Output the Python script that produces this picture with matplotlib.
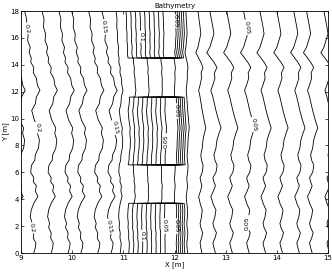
import numpy as np
import matplotlib
matplotlib.use("Agg")
import matplotlib.pyplot as plt

# ---- data ----
# cross-shore columns [m] and depth there [m]
x_cols = [8.5, 9.0, 9.23, 9.57, 9.9, 10.15, 10.48, 10.74, 10.93, 11.05, 11.1,
          11.85, 12.0, 12.2, 12.24, 12.5, 12.75, 13.08, 13.41, 13.73, 14.06,
          14.39, 14.64, 14.98, 15.5]
depth_open = [0.225, 0.208, 0.20, 0.19, 0.18, 0.17, 0.16, 0.15, 0.14, 0.136, 0.134,
              0.106, 0.10, 0.093, 0.09, 0.08, 0.07, 0.06, 0.05, 0.04, 0.03,
              0.02, 0.01, 0.0, -0.015]
depth_struct = [0.225, 0.208, 0.20, 0.19, 0.18, 0.17, 0.16, 0.15, 0.14, 0.136, 0.13,
                0.045, 0.042, 0.093, 0.09, 0.08, 0.07, 0.06, 0.05, 0.04, 0.03,
                0.02, 0.01, 0.0, -0.015]
# weights of the left / right wiggle per column
w_left = [1, 1, 1, 1, 1, 1, 1, 1, 0.45, 0.3, 0.3, 0.15, 0.05, 0, 0, 0, 0, 0, 0, 0, 0, 0, 0, 0, 0]
w_right = [0, 0, 0, 0, 0, 0, 0, 0, 0, 0, 0, 0.15, 0.2, 0.25, 0.3, 0.7, 1, 1, 1, 1, 1, 1, 1, 1, 1]

# alongshore stations [m], wiggle (x shift) of the contours, left and right part
y_rows = [0, 0.4, 0.75, 1.1, 1.5, 1.9, 2.2, 2.7, 3.2, 3.69,
          3.71, 4.2, 4.6, 5.0, 5.3, 5.6, 6.0, 6.4, 6.54, 6.56,
          6.9, 7.3, 7.8, 8.4, 8.9, 9.3, 9.9, 10.6, 11.1, 11.59,
          11.61, 12.1, 12.5, 13.0, 13.4, 13.8, 14.2, 14.49, 14.51, 14.9,
          15.3, 15.8, 16.3, 16.8, 17.4, 18]
shift_left = [0.02, 0.05, 0.06, 0.01, 0.02, -0.03, -0.01, -0.05, -0.03, 0.02,
              0.02, 0.1, 0.05, 0.07, 0.01, 0.02, -0.04, -0.03, -0.02, -0.02,
              0.04, 0.05, 0.11, 0.13, 0.09, 0.11, 0.03, -0.02, 0.05, 0.07,
              0.07, 0.14, 0.09, 0.07, 0.01, 0.02, -0.04, -0.03, -0.03, -0.07,
              -0.05, -0.1, -0.09, -0.13, -0.12, -0.16]
shift_right = [0.05, 0.02, 0.0, 0.04, 0.07, 0.02, 0.0, 0.04, 0.06, 0.0,
               0.0, -0.04, 0.01, 0.05, 0.02, 0.0, 0.06, 0.08, 0.08, 0.08,
               0.04, 0.02, 0.06, 0.08, 0.12, 0.16, 0.11, 0.06, 0.03, 0.0,
               0.0, -0.04, 0.0, 0.04, 0.03, 0.08, 0.02, -0.04, -0.04, -0.12,
               -0.06, -0.02, 0.02, 0.0, -0.03, -0.06]
structure_spans = [(0, 3.69), (6.56, 11.59), (14.51, 18)]

label_levels = [0.05, 0.1, 0.15, 0.2]
label_pos = [(9.22, 16.8), (9.31, 9.3), (9.23, 1.9),
             (10.55, 16.8), (10.82, 9.3), (10.68, 2.0),
             (11.23, 16.1), (12.28, 10.6), (11.27, 1.3),
             (11.93, 17.3), (13.47, 16.8), (13.62, 9.6), (13.47, 2.2),
             (11.81, 2.0), (12.03, 2.0), (11.87, 8.3)]

# ---- build grid ----
xc = np.array(x_cols)
yr = np.array(y_rows)
wl = np.array(w_left)
wr = np.array(w_right)
sl = np.array(shift_left)
sr = np.array(shift_right)
X = xc[None, :] + wl[None, :] * sl[:, None] + wr[None, :] * sr[:, None]
Y = np.repeat(yr[:, None], len(xc), axis=1)
Z = np.empty_like(X)
for i, yv in enumerate(yr):
    in_struct = any(a <= yv <= b for a, b in structure_spans)
    Z[i] = depth_struct if in_struct else depth_open

fig = plt.figure(figsize=(3.32, 2.72), dpi=100)
ax = fig.add_axes([21/332, 1-253/272, (328-21)/332, (253-11)/272])
all_levels = [round(0.01 * k, 2) for k in range(0, 22)]
plain_levels = [lv for lv in all_levels if lv not in label_levels]
ax.contour(X, Y, Z, levels=plain_levels, colors='k', linewidths=0.6)
cs_lab = ax.contour(X, Y, Z, levels=label_levels, colors='k', linewidths=0.6)
ax.clabel(cs_lab, manual=label_pos, fmt='%g', fontsize=4.5,
          inline=True, inline_spacing=1)

ax.set_xlim(9, 15)
ax.set_ylim(0, 18)
ax.set_xticks(range(9, 16))
ax.set_yticks(range(0, 19, 2))
ax.tick_params(direction='in', length=2.5, width=0.5, labelsize=5, pad=1.5,
               top=True, right=True)
for s in ax.spines.values():
    s.set_linewidth(0.6)
ax.set_title('Bathymetry', fontsize=5, pad=2)
ax.set_xlabel('X [m]', fontsize=5, labelpad=0)
ax.set_ylabel('Y [m]', fontsize=5, labelpad=0.5)
fig.savefig('out.png', dpi=100)
